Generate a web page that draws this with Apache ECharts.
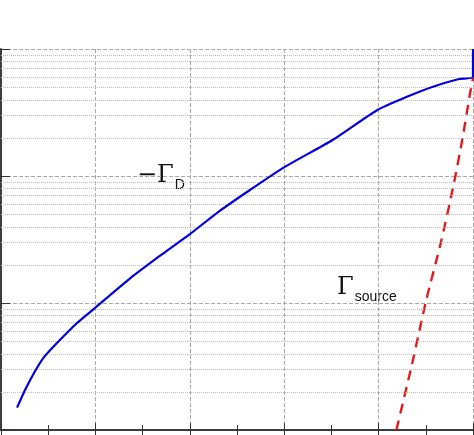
<!DOCTYPE html>
<html style="height: 100%">
<head>
    <meta charset="UTF-8">
    <script src="https://cdn.jsdelivr.net/npm/echarts@6/dist/echarts.min.js"></script>
</head>
<body style="height: 100%; margin: 0; background: #fff">
    <div id="main" style="width: 474px; height: 435px"></div>
    <script type="text/javascript">
        const blueX = [0.17, 0.26, 0.36, 0.45, 0.6, 0.8, 1.0, 1.371, 1.7, 2.004, 2.3, 2.637, 3.006, 3.513, 3.987, 4.3, 4.568, 4.852, 5.0, 5.0];
        const blueY = [1.5, 2.1, 2.9, 3.7, 4.9, 6.9, 9.2, 15.7, 24, 35, 52, 77.6, 118, 192, 331, 420, 502, 580, 603, 1000];
        const redX = [4.188, 4.35, 4.504, 4.66, 4.79, 4.89, 4.965, 5.0];
        const redY = [1, 3.2, 10.5, 30, 82, 200, 430, 592];
        const decades = [1, 10, 100, 1000];
        const minorSteps = [2, 3, 4, 5, 6, 7, 8, 9];

        const lg = v => Math.log10(v);
        const pairs = (xs, ys) => xs.map((x, i) => [x, lg(ys[i])]);

        const minorLines = [];
        decades.slice(0, 3).forEach(d => minorSteps.forEach(k => minorLines.push({yAxis: lg(d * k)})));

        const myChart = echarts.init(document.getElementById('main'));

        const xBase = {
            type: 'value', min: 0, max: 5, interval: 1,
            axisLabel: {show: false},
            axisLine: {lineStyle: {color: '#333', width: 1.5}},
            axisTick: {inside: true, length: 7, lineStyle: {color: '#333'}},
            minorTick: {show: true, splitNumber: 2, length: 5, lineStyle: {color: '#333'}}
        };
        const yBase = {
            type: 'value', min: 0, max: 3, interval: 1,
            axisLabel: {show: false},
            axisLine: {show: true, lineStyle: {color: '#333', width: 1.5}},
            axisTick: {inside: true, length: 9, lineStyle: {color: '#333'}}
        };

        myChart.setOption({
            animation: false,
            grid: {left: 1, right: 1, top: 49, bottom: 5},
            xAxis: [
                Object.assign({}, xBase, {position: 'bottom',
                    splitLine: {show: true, lineStyle: {color: '#aaa', type: 'dashed'}}}),
                Object.assign({}, xBase, {position: 'top', splitLine: {show: false}})
            ],
            yAxis: [
                Object.assign({}, yBase, {position: 'left',
                    splitLine: {show: true, lineStyle: {color: '#aaa', type: 'dashed'}}}),
                Object.assign({}, yBase, {position: 'right', splitLine: {show: false}})
            ],
            graphic: [
                {type: 'text', left: 137, top: 164, style: {
                    text: '{g|−Γ}{s|D}',
                    rich: {
                        g: {font: '24px "DejaVu Serif"', fill: '#111'},
                        s: {font: '14px "Liberation Sans"', fill: '#111', padding: [18, 0, 0, 1]}
                    }}},
                {type: 'text', left: 337, top: 276, style: {
                    text: '{g|Γ}{s|source}',
                    rich: {
                        g: {font: '24px "DejaVu Serif"', fill: '#111'},
                        s: {font: '14px "Liberation Sans"', fill: '#111', padding: [18, 0, 0, 1]}
                    }}}
            ],
            series: [
                {
                    type: 'line', data: [], silent: true,
                    markLine: {
                        symbol: 'none', silent: true, label: {show: false},
                        lineStyle: {color: '#bbb', type: 'dotted', width: 1},
                        data: minorLines
                    }
                },
                {
                    type: 'line', data: pairs(blueX, blueY), smooth: 0.2, showSymbol: false,
                    lineStyle: {color: '#0000e0', width: 2.2}, z: 5
                },
                {
                    type: 'line', data: pairs(redX, redY), smooth: 0.2, showSymbol: false,
                    lineStyle: {color: '#e31a1a', width: 2.4, type: [10, 7]}, z: 4
                }
            ]
        });
    </script>
</body>
</html>
